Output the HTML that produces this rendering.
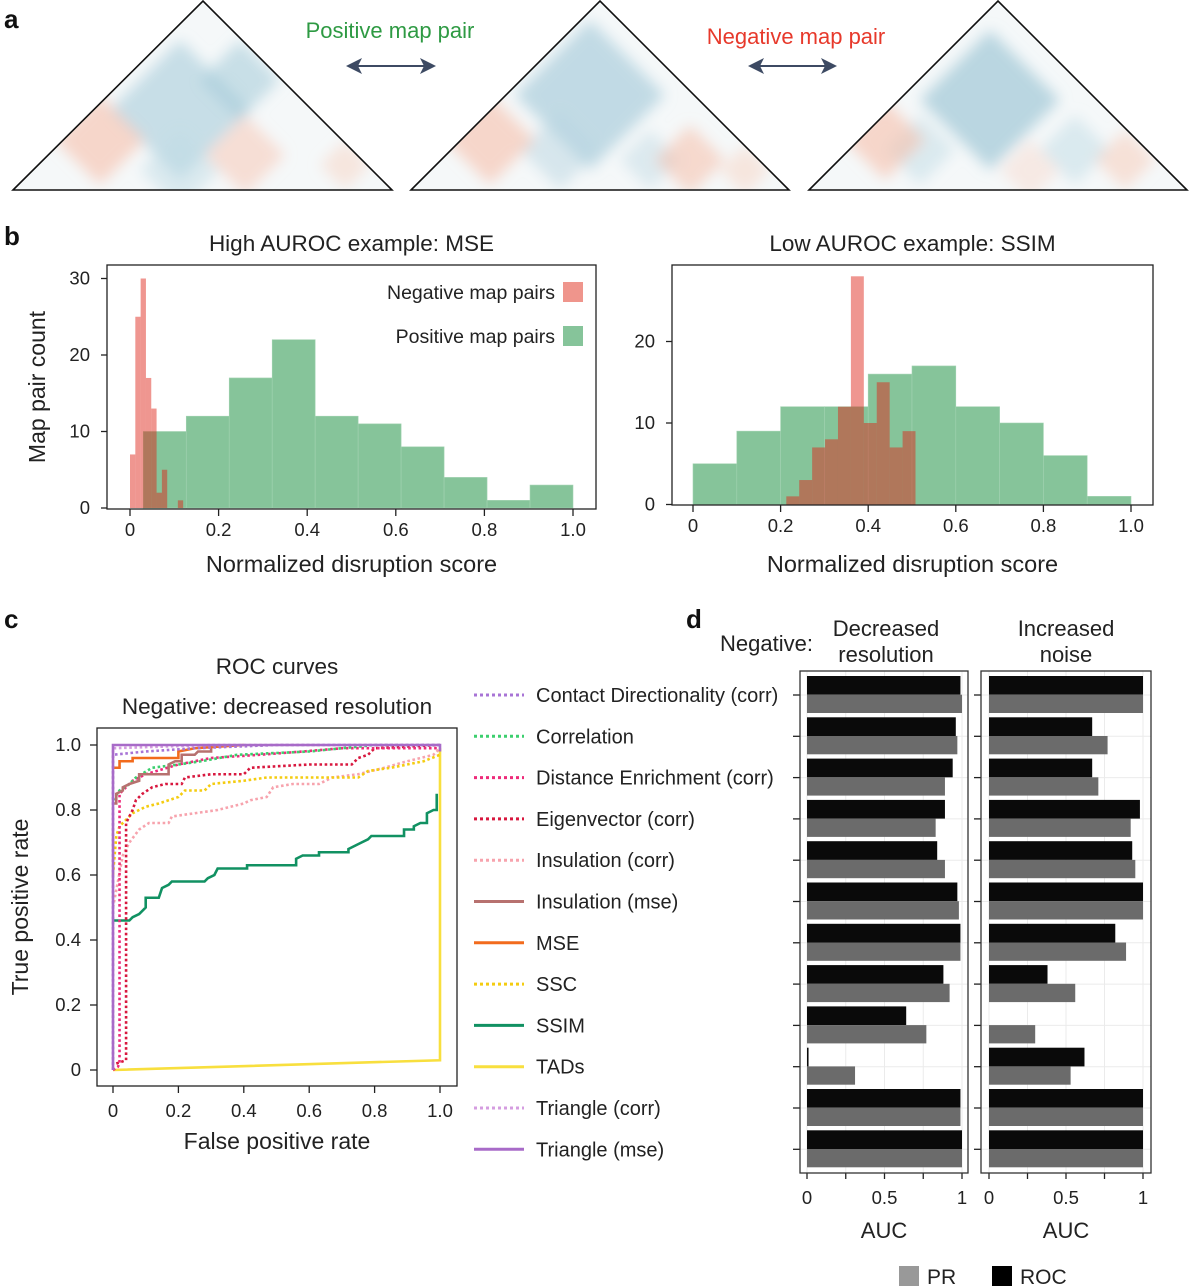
<!DOCTYPE html>
<html><head><meta charset="utf-8"><style>
body{margin:0;background:#fff;}
svg{display:block;font-family:"Liberation Sans",sans-serif;}
</style></head><body>
<svg id="fig" width="1200" height="1286" viewBox="0 0 1200 1286" xmlns="http://www.w3.org/2000/svg">
<defs>
<filter id="blur" x="-20%" y="-20%" width="140%" height="140%"><feGaussianBlur stdDeviation="7"/></filter>
<marker id="ah" markerWidth="8" markerHeight="8" refX="4" refY="4" orient="auto-start-reverse"><path d="M0,0 L8,4 L0,8 L2,4 Z" fill="#3d4a63"/></marker>
</defs>
<g id="panelA"></g>
<g id="panelB"></g>
<g id="panelC"></g>
<g id="panelD"></g>
</svg>
<script>
// ---------- Panel b data ----------
const posBinStartL = 0.03, posBinWidthL = 0.097;
const posCountsL = [10,12,17,22,12,11,8,4,1,3];
const negBinStartL = 0.0, negBinWidthL = 0.012;
const negCountsL = [7,25,30,17,13,2,5,0,0,1];
const posBinStartR = 0.0, posBinWidthR = 0.1;
const posCountsR = [5,9,12,12,16,17,12,10,6,1];
const negBinStartR = 0.213, negBinWidthR = 0.0295;
const negCountsR = [1,3,7,8,12,28,10,15,7,9];
const xTicksB = [0,0.2,0.4,0.6,0.8,1.0];
const xTickLabelsB = ["0","0.2","0.4","0.6","0.8","1.0"];
const yTicksBL = [0,10,20,30];
const yTicksBR = [0,10,20];

// ---------- Panel c data ----------
const rocNames = ["Contact Directionality (corr)","Correlation","Distance Enrichment (corr)","Eigenvector (corr)","Insulation (corr)","Insulation (mse)","MSE","SSC","SSIM","TADs","Triangle (corr)","Triangle (mse)"];
const rocColors = ["#a874d6","#3ccf6e","#ee2b7a","#d8173e","#f7a3ad","#b7716f","#f26b1d","#f4cc10","#119162","#f8df3e","#d59de0","#a86bc8"];
const rocDotted = [true,true,true,true,true,false,false,true,false,false,true,false];
const fprCD = [0,0,0.1,0.25,0.5,1];
const tprCD = [0,0.97,0.98,0.99,1,1];
const fprCorr = [0,0.02,0.05,0.07,0.12,0.2,0.27,0.38,0.6,0.8,1];
const tprCorr = [0.83,0.86,0.88,0.9,0.93,0.94,0.95,0.97,0.98,1,1];
const fprDE = [0,0.015,0.02,0.02,0.04,0.06,0.1,0.2,0.3,0.45,0.58,0.7,1];
const tprDE = [0,0.01,0.02,0.85,0.87,0.89,0.91,0.94,0.96,0.97,0.98,0.99,0.99];
const fprEig = [0.01,0.04,0.04,0.06,0.07,0.09,0.12,0.16,0.21,0.22,0.3,0.4,0.42,0.6,0.73,0.75,0.78,0.8,1];
const tprEig = [0.02,0.03,0.76,0.8,0.83,0.85,0.87,0.88,0.88,0.9,0.91,0.91,0.93,0.94,0.94,0.96,0.97,0.99,1];
const fprIC = [0,0.03,0.05,0.08,0.11,0.17,0.18,0.25,0.32,0.4,0.42,0.47,0.49,0.55,0.63,0.67,0.75,0.83,0.9,0.98,1];
const tprIC = [0.5,0.66,0.7,0.74,0.76,0.76,0.78,0.79,0.8,0.82,0.83,0.84,0.87,0.88,0.88,0.9,0.91,0.93,0.95,0.97,0.99];
const fprIM = [0,0.01,0.01,0.03,0.03,0.05,0.08,0.08,0.17,0.17,0.19,0.21,0.21,0.25,0.26,0.3,0.3];
const tprIM = [0.82,0.82,0.85,0.86,0.87,0.88,0.89,0.91,0.91,0.94,0.95,0.95,0.97,0.97,0.98,0.98,1];
const fprMSE = [0,0.02,0.02,0.06,0.06,0.2,0.2,0.25,0.4];
const tprMSE = [0.93,0.93,0.95,0.95,0.96,0.96,0.98,0.99,1];
const fprSSC = [0,0.01,0.02,0.04,0.06,0.1,0.14,0.2,0.22,0.28,0.3,0.4,0.47,0.75,0.78,0.85,0.95,1];
const tprSSC = [0.6,0.72,0.75,0.77,0.79,0.81,0.82,0.84,0.86,0.86,0.88,0.89,0.9,0.9,0.92,0.93,0.95,0.97];
const fprSSIM = [0,0,0.05,0.06,0.08,0.1,0.1,0.14,0.15,0.17,0.18,0.28,0.29,0.31,0.32,0.41,0.41,0.56,0.56,0.58,0.63,0.63,0.72,0.72,0.74,0.76,0.78,0.79,0.89,0.89,0.92,0.92,0.94,0.96,0.96,0.98,0.99,0.99];
const tprSSIM = [0.46,0.46,0.46,0.47,0.48,0.5,0.53,0.53,0.56,0.57,0.58,0.58,0.59,0.6,0.62,0.62,0.63,0.63,0.65,0.66,0.66,0.67,0.67,0.68,0.69,0.7,0.71,0.72,0.72,0.74,0.74,0.75,0.76,0.76,0.79,0.8,0.8,0.85];
const fprTAD = [0,1,1];
const tprTAD = [0,0.03,0.99];
const fprTC = [0,0,0.3,1];
const tprTC = [0,0.99,1,1];
const fprTM = [0,0,1,1];
const tprTM = [0,1,1,0.98];
const rocX = [fprCD,fprCorr,fprDE,fprEig,fprIC,fprIM,fprMSE,fprSSC,fprSSIM,fprTAD,fprTC,fprTM];
const rocY = [tprCD,tprCorr,tprDE,tprEig,tprIC,tprIM,tprMSE,tprSSC,tprSSIM,tprTAD,tprTC,tprTM];
const rocDrawOrder = [9,8,4,7,3,2,1,5,6,0,10,11];
const rocTicks = [0,0.2,0.4,0.6,0.8,1.0];
const rocTickLabels = ["0","0.2","0.4","0.6","0.8","1.0"];

// ---------- Panel d data ----------
const rocAucRes = [0.99,0.96,0.94,0.89,0.84,0.97,0.99,0.88,0.64,0.01,0.99,1.0];
const prAucRes  = [1.0,0.97,0.89,0.83,0.89,0.98,0.99,0.92,0.77,0.31,0.99,1.0];
const rocAucNoise = [1.0,0.67,0.67,0.98,0.93,1.0,0.82,0.38,0.0,0.62,1.0,1.0];
const prAucNoise  = [1.0,0.77,0.71,0.92,0.95,1.0,0.89,0.56,0.30,0.53,1.0,1.0];
const aucTicks = [0,0.5,1];
const aucTickLabels = ["0","0.5","1"];

const NS="http://www.w3.org/2000/svg";
function mk(parent,tag,attrs,text){const e=document.createElementNS(NS,tag);for(const k in attrs)e.setAttribute(k,attrs[k]);if(text!==undefined)e.textContent=text;parent.appendChild(e);return e;}

// ---------- Panel a ----------
const A=document.getElementById('panelA');
let t=mk(A,'text',{x:4,y:28,'font-size':26,'font-weight':'bold',fill:'#111'},'a');


const tris=[[13,392,203],[411,789,600],[809,1187,998]];
// diamonds: [centerX, centerY, halfWidth, color, opacity]
const blobSets=[
 [[180,110,70,'#a9cddb',0.6],[240,80,40,'#9cc5d5',0.5],[180,170,40,'#c0dbe5',0.5],[100,140,45,'#f6c0aa',0.6],[245,155,40,'#f7c9b6',0.55],[345,165,25,'#f8d3c4',0.5]],
 [[590,95,75,'#9fc7d7',0.6],[560,150,40,'#b9d6e1',0.5],[650,160,30,'#c3dce6',0.5],[490,140,45,'#f6c0aa',0.6],[690,160,35,'#f6c0aa',0.55],[745,170,25,'#f8d3c4',0.5]],
 [[990,100,70,'#93bfd1',0.6],[920,150,35,'#c0dbe5',0.5],[1075,150,35,'#c0dbe5',0.5],[885,140,40,'#f6c0aa',0.6],[1125,160,30,'#f8cdbc',0.55],[1030,170,30,'#f8d8ca',0.45]]
];
tris.forEach((tr,i)=>{
  const pts=`${tr[0]},190 ${tr[2]},1 ${tr[1]},190`;
  const cp=mk(document.querySelector('defs'),'clipPath',{id:'tc'+i});
  mk(cp,'polygon',{points:pts});
  const g=mk(A,'g',{'clip-path':`url(#tc${i})`});
  
  
  mk(g,'polygon',{points:pts,fill:'#f5f8f9'});
  const bg=mk(g,'g',{filter:'url(#blur)'});
  blobSets[i].forEach(b=>{
    const [x,y,h,c,o]=b;
    mk(bg,'polygon',{points:`${x},${y-h} ${x+h},${y} ${x},${y+h} ${x-h},${y}`,fill:c,opacity:o});
  });
  mk(A,'polygon',{points:pts,fill:'none',stroke:'#111','stroke-width':1.6});
});
t=mk(A,'text',{x:390,y:38,'font-size':22,fill:'#2e9a43','text-anchor':'middle'},'Positive map pair');


t=mk(A,'text',{x:796,y:44,'font-size':22,fill:'#e7392b','text-anchor':'middle'},'Negative map pair');


[[354,428],[756,829]].forEach((a,i)=>{
  const l=mk(A,'line',{x1:a[0],y1:66,x2:a[1],y2:66,stroke:'#3d4a63','stroke-width':2,'marker-start':'url(#ah)','marker-end':'url(#ah)'});
  
  
});

// ---------- Panel b ----------
const B=document.getElementById('panelB');
t=mk(B,'text',{x:4,y:245,'font-size':26,'font-weight':'bold',fill:'#111'},'b');


function hist(cfg){
  const g=mk(B,'g',{});
  
  
  const sx=v=>cfg.x0+(cfg.x1-cfg.x0)*v;
  const sy=v=>cfg.y0-cfg.ppu*v;
  cfg.pos.forEach((c,i)=>{
    if(!c)return;
    const a=sx(cfg.posStart+i*cfg.posW), b=sx(cfg.posStart+(i+1)*cfg.posW);
    const r=mk(g,'rect',{x:a,y:sy(c),width:b-a,height:cfg.y0-sy(c),fill:'#86c49a',stroke:'#a3d3b2','stroke-width':0.6});
    
    
  });
  cfg.neg.forEach((c,i)=>{
    if(!c)return;
    const a=sx(cfg.negStart+i*cfg.negW), b=sx(cfg.negStart+(i+1)*cfg.negW);
    const r=mk(g,'rect',{x:a,y:sy(c),width:b-a,height:cfg.y0-sy(c),fill:'rgb(222,36,24)','fill-opacity':0.48});
    
    
  });
  mk(g,'rect',{x:cfg.fx0,y:cfg.fy0,width:cfg.fx1-cfg.fx0,height:cfg.fy1-cfg.fy0,fill:'none',stroke:'#222','stroke-width':1.3});
  xTicksB.forEach((v,i)=>{
    mk(g,'line',{x1:sx(v),x2:sx(v),y1:cfg.fy1,y2:cfg.fy1+7,stroke:'#222','stroke-width':1.3});
    const tt=mk(g,'text',{x:sx(v),y:cfg.fy1+27,'font-size':18.5,'text-anchor':'middle',fill:'#222'},xTickLabelsB[i]);
    
    
  });
  cfg.yt.forEach(v=>{
    mk(g,'line',{x1:cfg.fx0-6,x2:cfg.fx0,y1:sy(v),y2:sy(v),stroke:'#222','stroke-width':1.3});
    const tt=mk(g,'text',{x:cfg.fx0-17,y:sy(v)+6,'font-size':18.5,'text-anchor':'end',fill:'#222'},String(v));
    
    
  });
  const tl=mk(g,'text',{x:(cfg.fx0+cfg.fx1)/2,y:251,'font-size':22.5,'text-anchor':'middle',fill:'#222'},cfg.title);
  
  
  const xl=mk(g,'text',{x:(cfg.fx0+cfg.fx1)/2,y:572,'font-size':23.5,'text-anchor':'middle',fill:'#222'},'Normalized disruption score');
  
  
}
hist({name:'histogram-mse',x0:130,x1:573,y0:508,ppu:7.65,fx0:107,fx1:596,fy0:265,fy1:509,pos:posCountsL,posStart:posBinStartL,posW:posBinWidthL,neg:negCountsL,negStart:negBinStartL,negW:negBinWidthL,yt:yTicksBL,title:'High AUROC example: MSE'});
hist({name:'histogram-ssim',x0:693,x1:1131,y0:504.5,ppu:8.15,fx0:672,fx1:1153,fy0:265,fy1:505,pos:posCountsR,posStart:posBinStartR,posW:posBinWidthR,neg:negCountsR,negStart:negBinStartR,negW:negBinWidthR,yt:yTicksBR,title:'Low AUROC example: SSIM'});
t=mk(B,'text',{x:0,y:0,'font-size':23,'text-anchor':'middle',fill:'#222',transform:'translate(45,387) rotate(-90)'},'Map pair count');


[['Negative map pairs',292,'#ef958c'],['Positive map pairs',336,'#86c49a']].forEach((l,i)=>{
  const g=mk(B,'g',{});
  
  
  mk(g,'text',{x:555,y:l[1]+7,'font-size':19.5,'text-anchor':'end',fill:'#222'},l[0]);
  mk(g,'rect',{x:563,y:l[1]-10,width:20,height:20,fill:l[2]});
});

// ---------- Panel c ----------
const C=document.getElementById('panelC');
t=mk(C,'text',{x:4,y:628,'font-size':26,'font-weight':'bold',fill:'#111'},'c');


const cx=v=>113+327*v, cy=v=>1070-325*v;
t=mk(C,'text',{x:277,y:674,'font-size':22.5,'text-anchor':'middle',fill:'#222'},'ROC curves');


t=mk(C,'text',{x:277,y:714,'font-size':22.5,'text-anchor':'middle',fill:'#222'},'Negative: decreased resolution');


const frame=mk(C,'rect',{x:97,y:728,width:360,height:358,fill:'none',stroke:'#222','stroke-width':1.3});


rocDrawOrder.forEach(k=>{
  const pts=rocX[k].map((v,j)=>cx(v)+','+cy(rocY[k][j])).join(' ');
  const p=mk(C,'polyline',{points:pts,fill:'none',stroke:rocColors[k],'stroke-width':2.6,'stroke-dasharray':rocDotted[k]?'2.6,2.6':'none','stroke-linejoin':'miter'});
  
  
});
rocTicks.forEach((v,i)=>{
  mk(C,'line',{x1:cx(v),x2:cx(v),y1:1086,y2:1093,stroke:'#222','stroke-width':1.3});
  let tt=mk(C,'text',{x:cx(v),y:1117,'font-size':18.5,'text-anchor':'middle',fill:'#222'},rocTickLabels[i]);
  
  
  mk(C,'line',{x1:90,x2:97,y1:cy(v),y2:cy(v),stroke:'#222','stroke-width':1.3});
  tt=mk(C,'text',{x:81,y:cy(v)+6,'font-size':18.5,'text-anchor':'end',fill:'#222'},rocTickLabels[i]);
  
  
});
t=mk(C,'text',{x:277,y:1149,'font-size':23,'text-anchor':'middle',fill:'#222'},'False positive rate');


t=mk(C,'text',{x:0,y:0,'font-size':23,'text-anchor':'middle',fill:'#222',transform:'translate(28,907) rotate(-90)'},'True positive rate');


rocNames.forEach((n,k)=>{
  const y=695+41.3*k;
  const g=mk(C,'g',{});
  
  
  mk(g,'line',{x1:474,x2:524,y1:y,y2:y,stroke:rocColors[k],'stroke-width':3,'stroke-dasharray':rocDotted[k]?'3,3':'none'});
  mk(g,'text',{x:536,y:y+7,'font-size':20,fill:'#222'},n);
});

// ---------- Panel d ----------
const D=document.getElementById('panelD');
t=mk(D,'text',{x:686,y:628,'font-size':26,'font-weight':'bold',fill:'#111'},'d');


t=mk(D,'text',{x:720,y:651,'font-size':22,fill:'#222'},'Negative:');


[['Decreased','resolution',886],['Increased','noise',1066]].forEach(h=>{
  let tt=mk(D,'text',{x:h[2],y:636,'font-size':22,'text-anchor':'middle',fill:'#222'},h[0]);
  
  
  mk(D,'text',{x:h[2],y:662,'font-size':22,'text-anchor':'middle',fill:'#222'},h[1]);
});
function bars(cfg){
  const g=mk(D,'g',{});
  
  
  const sx=v=>cfg.x0+(cfg.x1-cfg.x0)*v;
  [0,0.25,0.5,0.75,1].forEach(v=>{
    mk(g,'line',{x1:sx(v),x2:sx(v),y1:cfg.fy0,y2:cfg.fy1,stroke:'#ebebeb','stroke-width':1});
    mk(g,'line',{x1:sx(v),x2:sx(v),y1:cfg.fy1,y2:cfg.fy1+6,stroke:'#222','stroke-width':1.3});
  });
  cfg.roc.forEach((v,i)=>{
    const top=676+41.3*i;
    mk(g,'line',{x1:cfg.fx0,x2:cfg.fx1,y1:top+19,y2:top+19,stroke:'#ebebeb','stroke-width':1});
    mk(g,'line',{x1:cfg.fx0-7,x2:cfg.fx0,y1:top+19,y2:top+19,stroke:'#222','stroke-width':1.3});
    let r=mk(g,'rect',{x:cfg.x0,y:top,width:sx(v)-cfg.x0,height:18.7,fill:'#0a0a0a'});
    
    
    r=mk(g,'rect',{x:cfg.x0,y:top+18.7,width:sx(cfg.pr[i])-cfg.x0,height:18.3,fill:'#6b6b6b'});
    
    
  });
  mk(g,'rect',{x:cfg.fx0,y:cfg.fy0,width:cfg.fx1-cfg.fx0,height:cfg.fy1-cfg.fy0,fill:'none',stroke:'#333','stroke-width':1.3});
  aucTicks.forEach((v,i)=>{
    const tt=mk(g,'text',{x:sx(v),y:1204,'font-size':18.5,'text-anchor':'middle',fill:'#222'},aucTickLabels[i]);
    
    
  });
  const xl=mk(g,'text',{x:(cfg.fx0+cfg.fx1)/2,y:1238,'font-size':22,'text-anchor':'middle',fill:'#222'},'AUC');
  
  
}
bars({name:'auc-bars-resolution',x0:807,x1:962,fx0:800,fx1:968,fy0:671,fy1:1173,roc:rocAucRes,pr:prAucRes});
bars({name:'auc-bars-noise',x0:989,x1:1143,fx0:981,fx1:1151,fy0:671,fy1:1173,roc:rocAucNoise,pr:prAucNoise});
[[899,'#999','PR',927],[992,'#000','ROC',1020]].forEach(l=>{
  const g=mk(D,'g',{});
  
  
  mk(g,'rect',{x:l[0],y:1266,width:20,height:20,fill:l[1]});
  mk(g,'text',{x:l[3],y:1284,'font-size':21,fill:'#222'},l[2]);
});
</script>
</body></html>
